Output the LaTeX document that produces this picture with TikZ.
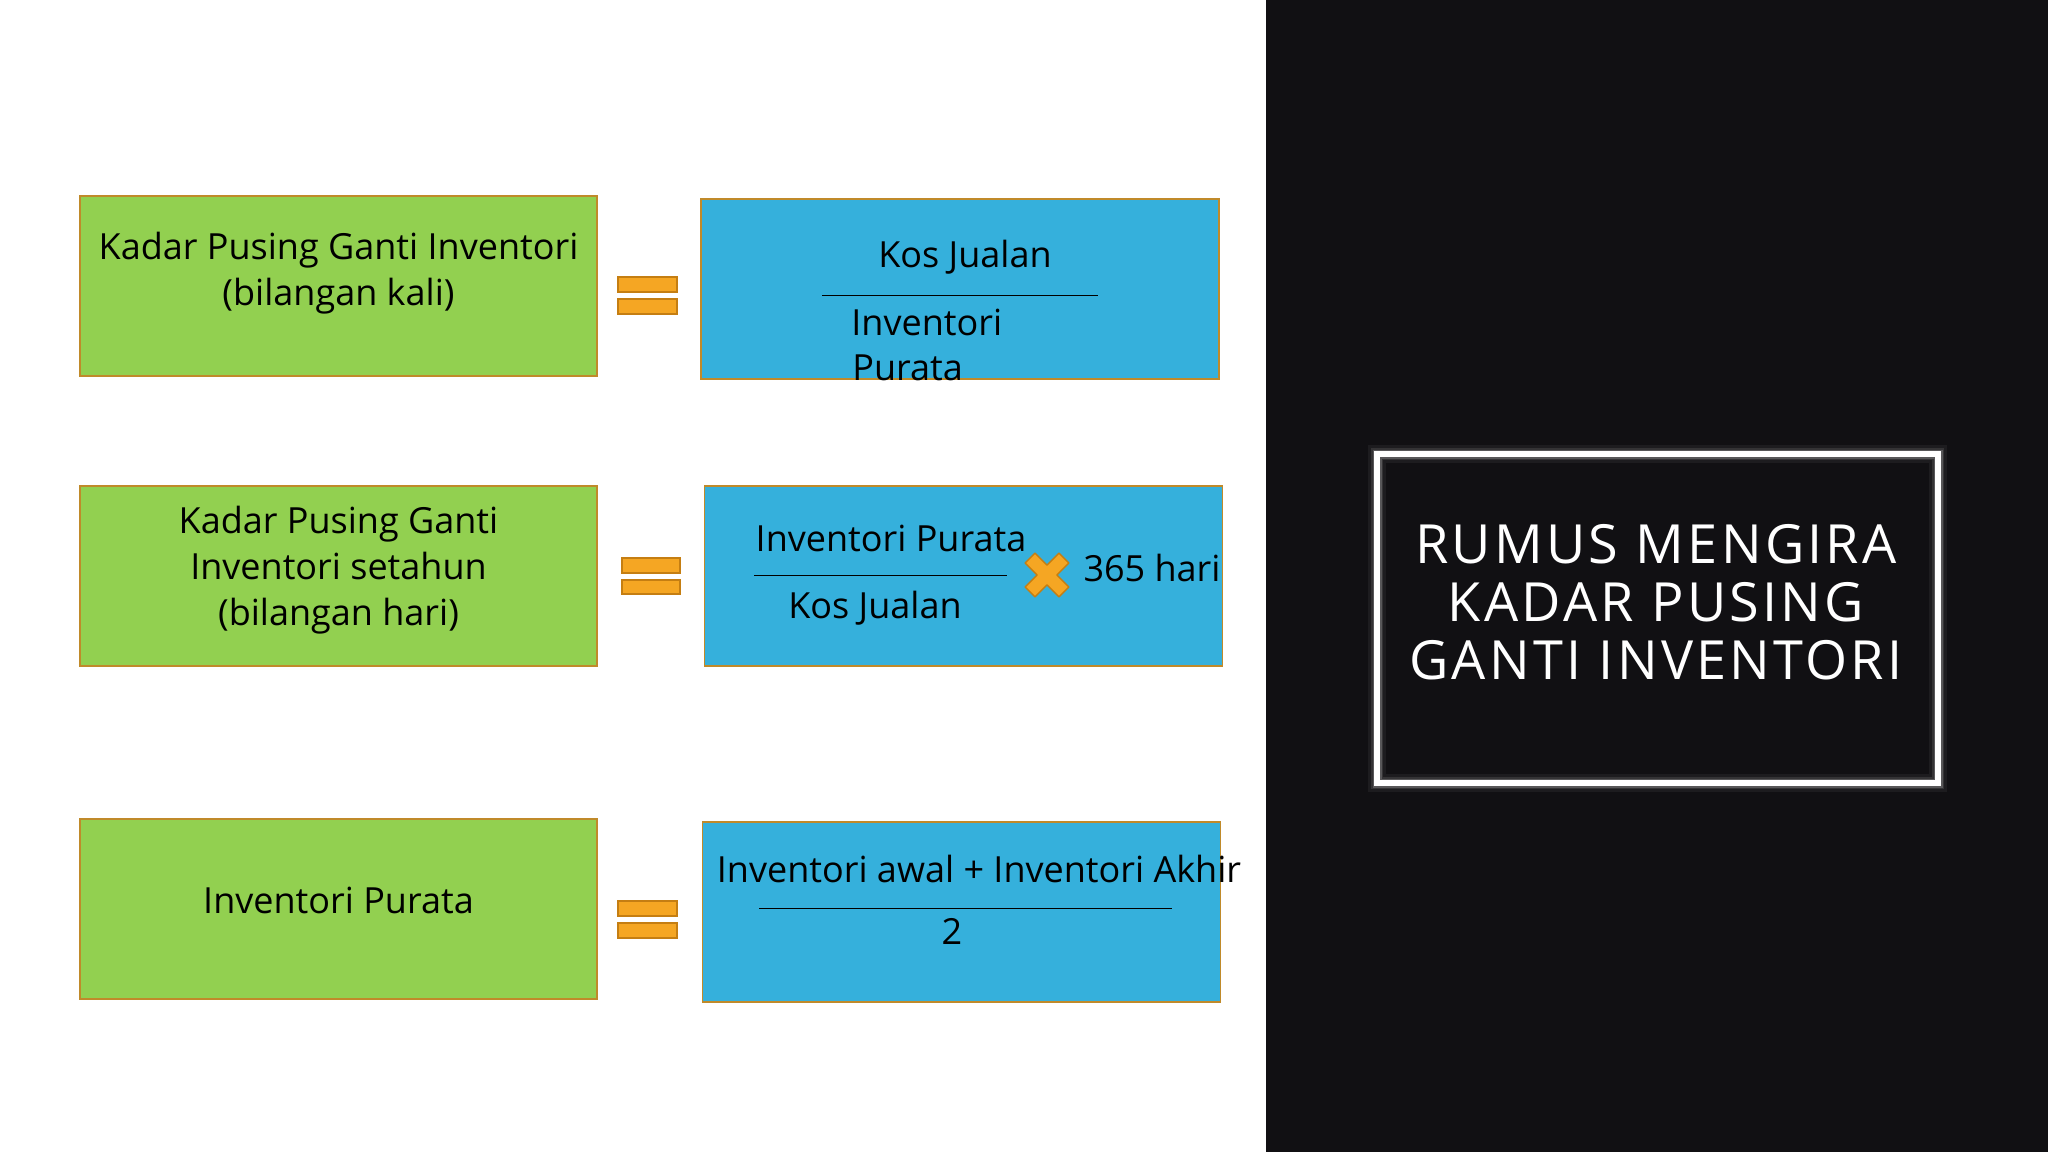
\documentclass[tikz,border=0pt]{standalone}
\usepackage{fontspec}
\setmainfont{Open Sans}
\newfontfamily\titlefont[LetterSpace=6]{Open Sans}
\definecolor{boxgreen}{HTML}{92D050}
\definecolor{boxblue}{HTML}{35B0DC}
\definecolor{boxedge}{HTML}{C08A2A}
\definecolor{barfill}{HTML}{F5A623}
\definecolor{baredge}{HTML}{C57E12}
\definecolor{panel}{HTML}{111013}
\begin{document}
\begin{tikzpicture}[x=0.5pt,y=-0.5pt,
  gbox/.style={draw=boxedge, fill=boxgreen, line width=0.9pt, minimum width=258.5pt, minimum height=90pt, inner sep=0pt},
  bbox/.style={draw=boxedge, fill=boxblue, line width=0.9pt, minimum width=259pt, minimum height=90pt, inner sep=0pt},
  txt/.style={font=\fontsize{18}{23}\selectfont, text=black, inner sep=0pt, align=center},
  bar/.style={draw=baredge, fill=barfill, line width=0.7pt},
  fracline/.style={draw=black, line width=0.5pt},
  title/.style={font=\titlefont\fontsize{27}{29}\selectfont, text=white, align=center, inner sep=0pt}]
\useasboundingbox (0,0) rectangle (2048,1152);
\fill[white] (0,0) rectangle (2048,1152);
% dark panel
\fill[panel] (1266,0) rectangle (2048,1152);
% title frame with glow
\draw[white, opacity=0.05, line width=9pt] (1377,454) rectangle (1938,783);
\draw[white, opacity=0.10, line width=6pt] (1377,454) rectangle (1938,783);
\draw[white, opacity=0.18, line width=4.5pt] (1377,454) rectangle (1938,783);
\draw[white, line width=2.8pt] (1377,454) rectangle (1938,783);
\node[title] (ttl) at (1656,602) {RUMUS MENGIRA\\KADAR PUSING\\GANTI INVENTORI};

% row 1
\node[gbox] (g1) at (338.5,286) {};
\node[bbox] (b1) at (960,289) {};
\node[txt] (g1t) at (338.5,273) {Kadar Pusing Ganti Inventori\\(bilangan kali)};
\draw[bar] (618,277) rectangle (677,292);
\draw[bar] (618,299) rectangle (677,314);
\node[txt] (b1n) at (965,257) {Kos Jualan};
\coordinate (f1a) at (822,295);
\coordinate (f1b) at (1098,295);
\draw[fracline] (f1a) -- (f1b);
\node[txt, anchor=west] (b1d1) at (851,322) {Inventori};
\node[txt, anchor=west] (b1d2) at (852,368) {Purata};

% row 2
\node[gbox] (g2) at (338.5,576) {};
\node[bbox] (b2) at (963.5,576) {};
\node[txt] (g2t) at (338.5,570) {Kadar Pusing Ganti\\Inventori setahun\\(bilangan hari)};
\draw[bar] (622,558) rectangle (680,573);
\draw[bar] (622,580) rectangle (680,594);
\node[txt] (b2n) at (891,538) {Inventori Purata};
\coordinate (f2a) at (754,575);
\coordinate (f2b) at (1007,575);
\draw[fracline] (f2a) -- (f2b);
\node[txt] (b2d) at (875,608) {Kos Jualan};
\begin{scope}[shift={(1047,575)}, rotate=45]
  \filldraw[draw=baredge, fill=barfill, line width=0.7pt, line join=round]
    (7,24) -- (7,7) -- (24,7) -- (24,-7) -- (7,-7) -- (7,-24) -- (-7,-24) -- (-7,-7)
    -- (-24,-7) -- (-24,7) -- (-7,7) -- (-7,24) -- cycle;
\end{scope}
\node[txt] (b2x) at (1152,568) {365 hari};

% row 3
\node[gbox] (g3) at (338.5,909) {};
\node[bbox] (b3) at (961.5,912) {};
\node[txt] (g3t) at (338.5,900) {Inventori Purata};
\draw[bar] (618,901) rectangle (677,916);
\draw[bar] (618,923) rectangle (677,938);
\node[txt] (b3n) at (979,869) {Inventori awal + Inventori Akhir};
\coordinate (f3a) at (759,908);
\coordinate (f3b) at (1172,908);
\draw[fracline] (f3a) -- (f3b);
\node[txt] (b3d) at (952,931) {2};
\end{tikzpicture}
\end{document}
